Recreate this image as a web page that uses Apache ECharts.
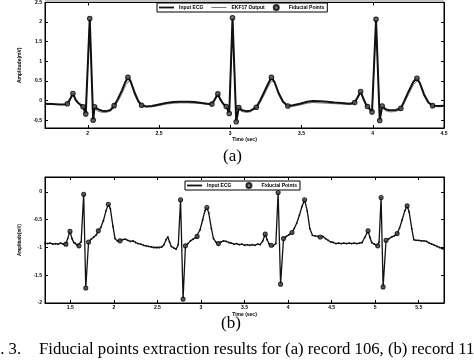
<!DOCTYPE html>
<html><head><meta charset="utf-8">
<script src="https://cdn.jsdelivr.net/npm/echarts@6/dist/echarts.min.js"></script>
<style>html,body{margin:0;padding:0;background:#fff}#c{width:474px;height:361px}</style>
</head><body><div id="c"></div>
<script>
// ---- (a) record 106 ----
const aTime  = [1.70,1.75,1.80,1.84,1.857,1.875,1.896,1.915,1.935,1.950,
                1.967,1.986,2.014,2.038,2.048,2.07,2.10,2.13,2.16,2.185,
                2.21,2.24,2.265,2.282,2.30,2.33,2.355,2.378,2.41,2.45,
                2.50,2.55,2.60,2.65,2.70,2.75,2.80,2.84,2.871,2.89,
                2.913,2.93,2.95,2.972,2.993,3.016,3.042,3.060,3.08,3.11,
                3.14,3.183,3.21,3.24,3.27,3.289,3.31,3.34,3.37,3.404,
                3.44,3.49,3.54,3.58,3.63,3.68,3.73,3.78,3.84,3.873,
                3.89,3.915,3.935,3.950,3.963,3.995,4.023,4.049,4.066,4.09,
                4.12,4.16,4.197,4.22,4.25,4.285,4.31,4.33,4.36,4.39,
                4.42,4.46,4.50];
const aInput = [-0.08,-0.09,-0.10,-0.10,-0.08,0.03,0.18,0.02,-0.07,-0.11,
                -0.16,-0.34,2.09,-0.50,-0.16,-0.22,-0.26,-0.27,-0.24,-0.13,
                0.03,0.26,0.48,0.59,0.50,0.18,-0.02,-0.12,-0.15,-0.14,
                -0.10,-0.06,-0.04,-0.03,-0.03,-0.04,-0.06,-0.08,-0.09,0.02,
                0.17,0.03,-0.08,-0.15,-0.33,2.11,-0.54,-0.18,-0.24,-0.27,
                -0.26,-0.17,0.00,0.23,0.46,0.59,0.48,0.18,-0.03,-0.14,
                -0.12,-0.08,-0.03,-0.01,-0.02,-0.03,-0.05,-0.06,-0.08,-0.05,
                0.06,0.23,0.04,-0.08,-0.15,-0.29,2.07,-0.51,-0.14,-0.22,
                -0.25,-0.24,-0.20,-0.02,0.22,0.48,0.57,0.45,0.15,-0.05,
                -0.13,-0.14,-0.13];
const aEkf   = [-0.09,-0.10,-0.10,-0.10,-0.09,0.00,0.14,0.04,-0.05,-0.10,
                -0.17,-0.32,2.05,-0.47,-0.20,-0.27,-0.30,-0.30,-0.27,-0.17,
                -0.03,0.18,0.38,0.48,0.48,0.24,0.02,-0.11,-0.16,-0.16,
                -0.13,-0.09,-0.07,-0.06,-0.06,-0.07,-0.08,-0.10,-0.10,-0.01,
                0.13,0.05,-0.06,-0.15,-0.31,2.07,-0.50,-0.22,-0.28,-0.30,
                -0.29,-0.20,-0.05,0.16,0.38,0.49,0.47,0.22,0.00,-0.14,
                -0.15,-0.11,-0.07,-0.05,-0.06,-0.07,-0.08,-0.09,-0.10,-0.08,
                0.03,0.18,0.06,-0.06,-0.14,-0.28,2.03,-0.48,-0.18,-0.26,
                -0.29,-0.28,-0.23,-0.07,0.15,0.40,0.50,0.46,0.19,-0.02,
                -0.13,-0.16,-0.15];
const aFidTime = [1.857,1.896,1.967,1.986,2.014,2.038,2.048,2.185,2.282,2.378,
                  2.871,2.913,2.972,2.993,3.016,3.042,3.060,3.183,3.289,3.404,
                  3.873,3.915,3.963,3.995,4.023,4.049,4.066,4.197,4.31,4.42];
const aFidVal  = [-0.08,0.18,-0.16,-0.34,2.09,-0.50,-0.16,-0.13,0.59,-0.12,
                  -0.09,0.17,-0.15,-0.33,2.11,-0.54,-0.18,-0.17,0.59,-0.14,
                  -0.05,0.23,-0.15,-0.29,2.07,-0.51,-0.14,-0.20,0.57,-0.13];
const aXTicks = [2,2.5,3,3.5,4,4.5];
const aYTicks = [-0.5,0,0.5,1,1.5,2,2.5];

// ---- (b) record 119 ----
const bTime  = [1.21,1.24,1.27,1.30,1.33,1.36,1.39,1.42,1.45,1.47,
                1.497,1.52,1.54,1.56,1.58,1.60,1.625,1.654,1.678,1.71,
                1.74,1.77,1.80,1.822,1.85,1.88,1.91,1.937,1.96,1.99,
                2.014,2.04,2.071,2.10,2.13,2.16,2.19,2.22,2.25,2.28,
                2.31,2.34,2.37,2.40,2.43,2.46,2.49,2.52,2.55,2.575,
                2.60,2.62,2.64,2.66,2.69,2.715,2.74,2.766,2.795,2.822,
                2.85,2.88,2.91,2.94,2.956,2.99,3.02,3.045,3.068,3.09,
                3.12,3.144,3.17,3.201,3.23,3.26,3.29,3.32,3.35,3.38,
                3.41,3.44,3.47,3.50,3.53,3.56,3.59,3.62,3.65,3.68,
                3.71,3.738,3.76,3.78,3.807,3.83,3.86,3.886,3.914,3.948,
                3.98,4.01,4.045,4.07,4.10,4.13,4.16,4.19,4.22,4.25,
                4.28,4.31,4.34,4.37,4.40,4.43,4.46,4.49,4.52,4.55,
                4.58,4.61,4.64,4.67,4.70,4.73,4.76,4.79,4.82,4.85,
                4.88,4.918,4.94,4.96,4.99,5.029,5.045,5.068,5.091,5.125,
                5.16,5.19,5.22,5.252,5.28,5.31,5.34,5.367,5.39,5.42,
                5.443,5.47,5.50,5.53,5.56,5.59,5.62,5.65,5.68,5.71,
                5.74,5.77,5.79];
const bInput = [-0.92,-0.93,-0.92,-0.94,-0.93,-0.94,-0.92,-0.94,-0.94,-0.84,
                -0.71,-0.84,-0.91,-0.92,-0.96,-0.97,-0.90,-0.04,-1.73,-0.90,
                -0.85,-0.81,-0.77,-0.70,-0.64,-0.52,-0.34,-0.22,-0.30,-0.62,
                -0.84,-0.88,-0.88,-0.86,-0.85,-0.87,-0.89,-0.88,-0.91,-0.93,
                -0.94,-0.96,-0.97,-0.98,-0.99,-1.00,-1.00,-1.00,-0.99,-0.95,
                -0.86,-0.81,-0.90,-0.98,-1.01,-1.03,-0.95,-0.14,-1.93,-0.97,
                -0.93,-0.88,-0.85,-0.82,-0.80,-0.68,-0.50,-0.34,-0.28,-0.38,
                -0.66,-0.84,-0.90,-0.93,-0.90,-0.88,-0.89,-0.91,-0.92,-0.94,
                -0.93,-0.95,-0.94,-0.96,-0.95,-0.96,-0.95,-0.96,-0.94,-0.95,
                -0.88,-0.76,-0.86,-0.93,-0.96,-0.97,-0.93,-0.01,-1.66,-0.84,
                -0.80,-0.77,-0.73,-0.66,-0.56,-0.42,-0.26,-0.14,-0.34,-0.66,
                -0.78,-0.79,-0.80,-0.81,-0.80,-0.84,-0.87,-0.90,-0.91,-0.93,
                -0.92,-0.93,-0.92,-0.93,-0.92,-0.93,-0.92,-0.93,-0.92,-0.91,
                -0.82,-0.70,-0.82,-0.91,-0.94,-0.97,-0.90,-0.10,-1.71,-0.87,
                -0.84,-0.81,-0.79,-0.75,-0.65,-0.50,-0.34,-0.25,-0.36,-0.66,
                -0.86,-0.87,-0.87,-0.88,-0.88,-0.89,-0.92,-0.94,-0.96,-0.98,
                -1.00,-1.02,-1.03];
const bFidTime = [1.45,1.497,1.60,1.654,1.678,1.71,1.822,1.937,2.071,
                  2.766,2.795,2.822,2.956,3.068,3.201,
                  3.738,3.807,3.886,3.914,3.948,4.045,4.19,4.37,
                  4.918,5.029,5.068,5.091,5.125,5.252,5.367];
const bFidVal  = [-0.94,-0.71,-0.97,-0.04,-1.73,-0.90,-0.70,-0.22,-0.88,
                  -0.14,-1.93,-0.97,-0.80,-0.28,-0.93,
                  -0.76,-0.96,-0.01,-1.66,-0.84,-0.73,-0.14,-0.81,
                  -0.70,-0.97,-0.10,-1.71,-0.87,-0.75,-0.25];
const bXTicks = [1.5,2,2.5,3,3.5,4,4.5,5,5.5];
const bYTicks = [-2,-1.5,-1,-0.5,0];

const zip = (t, v) => t.map((x, i) => [x, v[i]]);
const SANS = 'Liberation Sans';
const lbl = {fontSize:5, fontWeight:'bold', color:'#000', fontFamily:SANS};

function xAx(grid, min, max, ticks, gap, margin) {
  return [
    {gridIndex:grid, type:'value', min:min, max:max, position:'bottom',
     axisLine:{onZero:false, lineStyle:{color:'#000', width:1}},
     axisTick:{inside:true, length:3, customValues:ticks, lineStyle:{color:'#000'}},
     axisLabel:Object.assign({customValues:ticks, margin:margin}, lbl),
     splitLine:{show:false},
     name:'Time (sec)', nameLocation:'middle', nameGap:gap, nameTextStyle:lbl},
    {gridIndex:grid, type:'value', min:min, max:max, position:'top',
     axisLine:{onZero:false, lineStyle:{color:'#000', width:1}},
     axisTick:{inside:true, length:3, customValues:ticks, lineStyle:{color:'#000'}},
     axisLabel:{show:false}, splitLine:{show:false}}
  ];
}
function yAx(grid, min, max, ticks, gap, nameSize) {
  return [
    {gridIndex:grid, type:'value', min:min, max:max, position:'left',
     axisLine:{onZero:false, lineStyle:{color:'#000', width:1}},
     axisTick:{inside:true, length:3, customValues:ticks, lineStyle:{color:'#000'}},
     axisLabel:Object.assign({customValues:ticks, margin:3}, lbl),
     splitLine:{show:false},
     name:'Amplitude(mV)', nameLocation:'middle', nameGap:gap,
     nameTextStyle:Object.assign({}, lbl, {fontSize:nameSize})},
    {gridIndex:grid, type:'value', min:min, max:max, position:'right',
     axisLine:{onZero:false, lineStyle:{color:'#000', width:1}},
     axisTick:{inside:true, length:3, customValues:ticks, lineStyle:{color:'#000'}},
     axisLabel:{show:false}, splitLine:{show:false}}
  ];
}

const fidStyle = {color:'#5a5a5a', borderColor:'#000', borderWidth:1.1};
const legendText = {fontSize:5, fontWeight:'bold', color:'#000', fontFamily:SANS};
const lineIcon = 'path://M0,0H15V1.8H0Z';

const option = {
  animation:false,
  backgroundColor:'#fff',
  grid:[
    {left:45, top:0, width:399, height:128, show:true, borderColor:'#000', borderWidth:1, backgroundColor:'#fff'},
    {left:45, top:177, width:399, height:126, show:true, borderColor:'#000', borderWidth:1, backgroundColor:'#fff'}
  ],
  legend:[
    {left:157, top:3, orient:'horizontal', padding:[1,3,1,2], itemGap:8, itemWidth:15, itemHeight:5,
     borderColor:'#000', borderWidth:1, backgroundColor:'#fff',
     data:[{name:'Input ECG', icon:lineIcon, itemStyle:{color:'#111'}},
           {name:'EKF17 Output', icon:'path://M0,0H15V1H0Z', itemStyle:{color:'#7a7a7a'}},
           {name:'Fiducial Points', icon:'circle'}],
     textStyle:legendText, selectedMode:false},
    {left:185, top:181, orient:'horizontal', padding:[1,3,1,2], itemGap:14, itemWidth:15, itemHeight:5,
     borderColor:'#000', borderWidth:1, backgroundColor:'#fff',
     data:[{name:'Input ECG', icon:lineIcon, itemStyle:{color:'#111'}},
           {name:'Fiducial Points', icon:'circle'}],
     textStyle:legendText, selectedMode:false}
  ],
  xAxis: xAx(0, 1.7, 4.5, aXTicks, 8, 3).concat(xAx(1, 1.21, 5.79, bXTicks, 9, 2)),
  yAxis: yAx(0, -0.7, 2.5, aYTicks, 15, 5).concat(yAx(1, -2, 0.27, bYTicks, 15, 4.5)),
  series:[
    {name:'EKF17 Output', type:'line', xAxisIndex:0, yAxisIndex:0, data:zip(aTime, aEkf),
     symbol:'none', lineStyle:{color:'#7a7a7a', width:1}, itemStyle:{color:'#7a7a7a'}, z:2},
    {name:'Input ECG', type:'line', xAxisIndex:0, yAxisIndex:0, data:zip(aTime, aInput),
     symbol:'none', lineStyle:{color:'#111', width:2}, itemStyle:{color:'#111'}, z:3},
    {name:'Fiducial Points', type:'scatter', xAxisIndex:0, yAxisIndex:0, data:zip(aFidTime, aFidVal),
     symbol:'circle', symbolSize:4.5, itemStyle:fidStyle, z:4},
    {name:'Input ECG', type:'line', xAxisIndex:2, yAxisIndex:2, data:zip(bTime, bInput),
     showSymbol:true, symbol:'circle', symbolSize:1.8, lineStyle:{color:'#111', width:1.3},
     itemStyle:{color:'#111'}, z:3},
    {name:'Fiducial Points', type:'scatter', xAxisIndex:2, yAxisIndex:2, data:zip(bFidTime, bFidVal),
     symbol:'circle', symbolSize:4, itemStyle:fidStyle, z:4}
  ],
  graphic:[
    {type:'rect', left:45, top:0, z:-1, shape:{width:399, height:3}, style:{fill:'#c4c4c4'}},
    {type:'text', left:223, top:148, style:{text:'(a)', font:'17px "Liberation Serif"', fill:'#000'}},
    {type:'text', left:221, top:315, style:{text:'(b)', font:'17px "Liberation Serif"', fill:'#000'}},
    {type:'text', left:-22, top:341, style:{text:'Fig. 3.', font:'16.7px "Liberation Serif"', fill:'#000'}},
    {type:'text', left:39, top:341, style:{text:'Fiducial points extraction results for (a) record 106, (b) record 119.', font:'16.7px "Liberation Serif"', fill:'#000'}}
  ]
};
echarts.init(document.getElementById('c'), null, {renderer:'canvas'}).setOption(option);
</script></body></html>
